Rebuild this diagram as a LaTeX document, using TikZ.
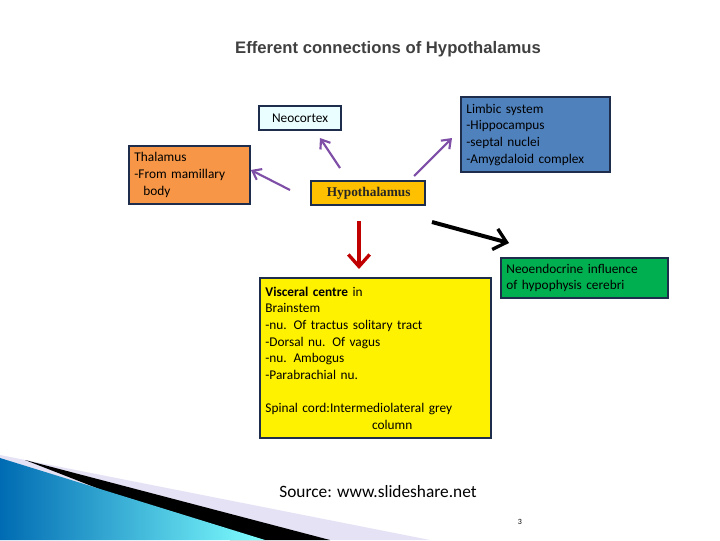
\documentclass[tikz,border=0pt]{standalone}
\usepackage{fontspec}
\setmainfont{Carlito}
\newfontfamily\titlefont{Liberation Sans}
\newfontfamily\serifb{Liberation Serif}
\usetikzlibrary{arrows.meta}
\definecolor{nb}{HTML}{1F2D4D}
\definecolor{pur}{HTML}{7F4FA8}
\tikzset{
 bx/.style={draw=nb,line width=1.6pt,anchor=north west,inner sep=0pt,align=left,font=\fontsize{10}{12.5}\selectfont},
 parr/.style={draw=pur,line width=1.6pt,-{Straight Barb[length=6pt,width=9pt]}},
}
\begin{document}
\begin{tikzpicture}[x=0.75pt,y=-0.75pt]
\useasboundingbox (0,0) rectangle (720,540);
\fill[white] (0,0) rectangle (720,540);
% bottom decoration
\fill[cyan!15!blue!10] (0,455) -- (430,540) -- (0,540) -- cycle;
\fill[black] (25,460) -- (330,540) -- (230,540) -- cycle;
\shade[left color=cyan!60!blue!70!black, right color=cyan!50!white] (0,458) -- (265,540) -- (0,540) -- cycle;
\node[font=\titlefont\bfseries\fontsize{12.5}{14}\selectfont,text=black!75] (title) at (388,49) {Efferent connections of Hypothalamus};
\node[bx,fill=blue!5!cyan!8,minimum width=82pt*0.75,minimum height=24pt*0.75,inner xsep=5pt] (neo) at (258,105) {Neocortex};
\node[bx,fill={rgb,255:red,79;green,129;blue,189},text width=138pt*0.75,inner xsep=4pt,inner ysep=3pt,minimum height=75pt*0.75] (lim) at (460,96) {Limbic system\\-Hippocampus\\-septal nuclei\\-Amygdaloid complex};
\node[bx,fill={rgb,255:red,247;green,150;blue,70},text width=110pt*0.75,inner xsep=4pt,inner ysep=3pt,minimum height=58pt*0.75] (tha) at (128,145) {Thalamus\\-From mamillary\\\ \ body};
\node[bx,fill={rgb,255:red,255;green,192;blue,0},minimum width=114pt*0.75,minimum height=24pt*0.75,align=center,font=\serifb\bfseries\fontsize{10}{12}\selectfont,text=black!85] (hyp) at (310,180) {\hspace*{1pt}Hypothalamus};
\node[bx,fill={rgb,255:red,0;green,176;blue,80},text width=156pt*0.75,inner xsep=4pt,inner ysep=3pt,minimum height=40pt*0.75] (nen) at (500,257) {Neoendocrine influence\\of hypophysis cerebri};
\node[bx,fill=yellow,text width=220pt*0.75,inner xsep=4pt,inner ysep=4pt,minimum height=160pt*0.75] (vis) at (259,277) {\textbf{Visceral centre} in\\Brainstem\\-nu. Of tractus solitary tract\\-Dorsal nu. Of vagus\\-nu. Ambogus\\-Parabrachial nu.\\[12.5pt]Spinal cord:Intermediolateral grey\\\hspace*{80pt}column};
\coordinate (a1) at (290,190); \coordinate (a2) at (340,168); \coordinate (a3) at (414,176);
\draw[parr] (a1) -- (tha.east |- 0,170) ;
\draw[parr] (a2) -- (320,138) coordinate (b2);
\draw[parr] (a3) -- (452,138) coordinate (b3);
\coordinate (r1) at (359,221);
\draw[draw={rgb,255:red,192;green,0;blue,0},line width=3pt,-{Straight Barb[length=9pt,width=16pt,line width=2.5pt]}] (r1) -- (359,269);
\coordinate (k1) at (432,222);
\draw[black,line width=3pt,-{Straight Barb[length=9pt,width=16pt,line width=2.5pt]}] (k1) -- (509,243);
\node[font=\fontsize{13}{15}\selectfont] (src) at (378,492) {Source: www.slideshare.net};
\node[font=\fontsize{6}{7}\selectfont] (pg) at (520,522) {3};
\end{tikzpicture}
\end{document}
